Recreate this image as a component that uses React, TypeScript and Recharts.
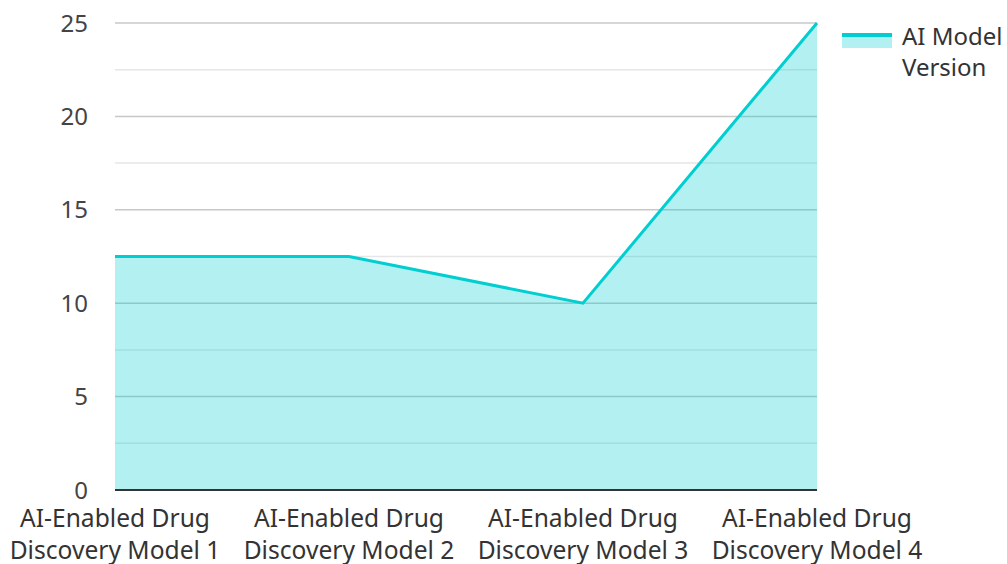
import { Area, AreaChart, CartesianGrid, XAxis, YAxis } from "recharts"

const categories = [
    "AI-Enabled Drug Discovery Model 1",
    "AI-Enabled Drug Discovery Model 2",
    "AI-Enabled Drug Discovery Model 3",
    "AI-Enabled Drug Discovery Model 4",
]
const versionValues = [12.5, 12.5, 10, 25]
const yTicks = [0, 2.5, 5, 7.5, 10, 12.5, 15, 17.5, 20, 22.5, 25]

const seriesName = "AI Model Version"
const color = "#00CED1"
const font = "'Noto Sans', 'Open Sans', sans-serif"

const data = categories.map((c, i) => ({ name: c, version: versionValues[i] }))

// two-line category labels, split after "Drug"
const CategoryTick = ({ x, y, payload }: any) => {
    const words = String(payload.value).split(" ")
    const first = words.slice(0, 2).join(" ")
    const second = words.slice(2).join(" ")
    return (
        <text x={x} y={y} textAnchor="middle" fill="#333" fontSize={24.6} fontFamily={font}>
            <tspan x={x} dy={29}>{first}</tspan>
            <tspan x={x} dy={32}>{second}</tspan>
        </text>
    )
}

// major lines at multiples of 5, lighter ones in between
const GridLine = (props: any) => {
    const { x1, x2, y1, y2, index } = props
    const major = index % 2 === 0
    return (
        <line x1={x1} x2={x2} y1={y1} y2={y2} stroke={major ? "#c8c8c8" : "#e6e6e6"} strokeWidth={1.5} />
    )
}

const LegendBox = () => (
    <div style={{ position: "absolute", left: 842, top: 20, display: "flex", alignItems: "flex-start", fontFamily: font, fontSize: 24, color: "#333" }}>
        <div style={{ width: 50, marginTop: 13, marginRight: 10 }}>
            <div style={{ height: 4, background: color }} />
            <div style={{ height: 11, background: "rgba(0,206,209,0.3)" }} />
        </div>
        <div style={{ lineHeight: "31px", width: 110 }}>{seriesName}</div>
    </div>
)

export default function App() {
    return (
        <div style={{ position: "absolute", left: 0, top: 0, width: 1007, height: 564, background: "#fff", overflow: "hidden" }}>
            <AreaChart width={1007} height={564} data={data} margin={{ top: 23, right: 190, bottom: 0, left: 0 }}>
                <CartesianGrid vertical={false} horizontal={GridLine as any} />
                <XAxis
                    dataKey="name"
                    tick={<CategoryTick />}
                    tickLine={false}
                    axisLine={{ stroke: "#333", strokeWidth: 2 }}
                    interval={0}
                    height={74}
                />
                <YAxis
                    type="number"
                    domain={[0, 25]}
                    ticks={yTicks}
                    tickFormatter={(v: number) => (v % 5 === 0 ? String(v) : "")}
                    width={115}
                    axisLine={false}
                    tickLine={false}
                    tickMargin={21}
                    tick={{ fill: "#444", fontSize: 24, fontFamily: font }}
                />
                <Area
                    type="linear"
                    dataKey="version"
                    name={seriesName}
                    stroke={color}
                    strokeWidth={3}
                    fill={color}
                    fillOpacity={0.3}
                    dot={false}
                    activeDot={false}
                    isAnimationActive={false}
                />
            </AreaChart>
            <LegendBox />
        </div>
    )
}
